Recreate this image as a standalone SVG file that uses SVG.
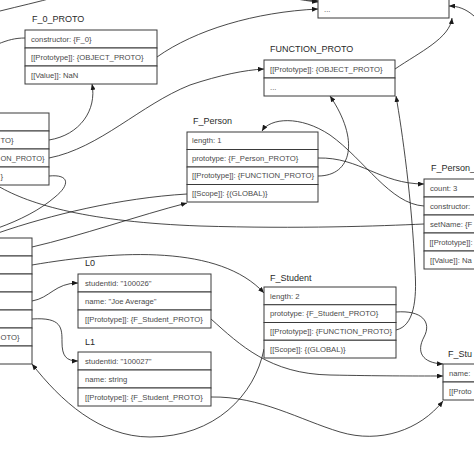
<svg xmlns="http://www.w3.org/2000/svg" width="474" height="474" viewBox="0 0 474 474">
<style>
.box{fill:#fff;stroke:#3a3a3a;stroke-width:1}
.t{font-family:"Liberation Sans",Arial,sans-serif;font-size:7.7px;fill:#4a4a4a}
.h{font-family:"Liberation Sans",Arial,sans-serif;font-size:9px;fill:#2a2a2a}
.c{fill:none;stroke:#1a1a1a;stroke-width:0.8}
.a{marker-end:url(#arr)}
</style>
<defs>
<marker id="arr" markerUnits="userSpaceOnUse" markerWidth="6" markerHeight="5" refX="6" refY="2.5" orient="auto">
<path d="M0,0 L6,2.5 L0,5 z" fill="#1a1a1a"/>
</marker>
</defs>
<rect width="474" height="474" fill="#fff"/>
<g id="connectors">
<path class="c" d="M0,11 C20,6 38,2 56,-3"/>
<path class="c a" d="M282,-4 C295,-1 308,1 318,2"/>
<path class="c a" d="M272,-6 C290,-2 306,0 318,1"/>
<path class="c a" d="M157,57 C195,30 255,12 318,9"/>
<path class="c a" d="M474,16 C466,9 458,6 449,6"/>
<path class="c" d="M25,38 C15,38 8,40 -2,44"/>
<path class="c a" d="M395,69 C420,52 450,38 452,18"/>
<path class="c a" d="M49,140 C80,135 97,110 92,84"/>
<path class="c a" d="M49,158 C100,148 140,105 190,85 C220,75 245,70 264,69"/>
<path class="c" d="M49,176 C70,174 70,185 55,197 C40,210 20,220 -2,228"/>
<path class="c" d="M-2,186 C30,205 90,222 200,226 C300,229 380,226 424,224"/>
<path class="c" d="M187,194 C120,198 50,215 -2,233"/>
<path class="c a" d="M32,247 C80,236 140,215 187,203"/>
<path class="c a" d="M318,158 C360,157 380,184 424,184"/>
<path class="c a" d="M424,206 C390,204 365,160 330,135 C300,115 270,118 262,131"/>
<path class="c a" d="M318,176 C352,176 360,140 330,96"/>
<path class="c a" d="M396,330 C414,326 417,300 415,270 C412,200 402,130 396,96"/>
<path class="c a" d="M32,265 C120,250 220,245 264,293"/>
<path class="c a" d="M32,301 C50,298 55,283 78,283"/>
<path class="c a" d="M32,319 C62,317 62,328 62,342 C62,356 66,361 78,361"/>
<path class="c a" d="M211,319 C240,345 270,374 330,375 C380,376 410,376 443,376"/>
<path class="c a" d="M211,397 C260,396 300,420 340,432 C380,444 420,430 443,401"/>
<path class="c a" d="M264,349 C255,395 215,437 150,437 C100,437 60,400 32,364"/>
<path class="c a" d="M396,312 C422,310 432,322 424,337 C416,352 422,363 443,364"/>
</g>
<g id="top_obj">
<rect class="box" x="318" y="-10" width="131" height="28"/>
<text class="t" x="324" y="12">...</text>
</g>
<g id="F_0_PROTO">
<text class="h" x="32" y="22">F_0_PROTO</text>
<rect class="box" x="25" y="30" width="132" height="18"/>
<rect class="box" x="25" y="48" width="132" height="18"/>
<rect class="box" x="25" y="66" width="132" height="18"/>
<text class="t" x="31" y="41.6">constructor: {F_0}</text>
<text class="t" x="31" y="59.6">[[Prototype]]: {OBJECT_PROTO}</text>
<text class="t" x="31" y="77.6">[[Value]]: NaN</text>
</g>
<g id="FUNCTION_PROTO">
<text class="h" x="270" y="52">FUNCTION_PROTO</text>
<rect class="box" x="264" y="60" width="131" height="18"/>
<rect class="box" x="264" y="78" width="131" height="18"/>
<text class="t" x="270" y="71.6">[[Prototype]]: {OBJECT_PROTO}</text>
<text class="t" x="270" y="89.6">...</text>
</g>
<g id="F_0">
<rect class="box" x="-90" y="113" width="139" height="18"/>
<rect class="box" x="-90" y="131" width="139" height="18"/>
<rect class="box" x="-90" y="149" width="139" height="18"/>
<rect class="box" x="-90" y="167" width="139" height="18"/>
<text class="t" x="0.5" y="142.6">TO}</text>
<text class="t" x="0.5" y="160.6" textLength="44" lengthAdjust="spacingAndGlyphs">ON_PROTO}</text>
<text class="t" x="0.5" y="178.6">}</text>
</g>
<g id="F_Person">
<text class="h" x="193" y="124">F_Person</text>
<rect class="box" x="187" y="132" width="131" height="17.5"/>
<rect class="box" x="187" y="149.5" width="131" height="17.5"/>
<rect class="box" x="187" y="167" width="131" height="17.5"/>
<rect class="box" x="187" y="184.5" width="131" height="17.5"/>
<text class="t" x="192" y="143.4">length: 1</text>
<text class="t" x="192" y="160.9">prototype: {F_Person_PROTO}</text>
<text class="t" x="192" y="178.4">[[Prototype]]: {FUNCTION_PROTO}</text>
<text class="t" x="192" y="195.9">[[Scope]]: {(GLOBAL)}</text>
</g>
<g id="F_Person_PROTO">
<text class="h" x="431" y="171" font-size="8.6">F_Person_</text>
<rect class="box" x="424" y="179" width="60" height="18"/>
<rect class="box" x="424" y="197" width="60" height="18"/>
<rect class="box" x="424" y="215" width="60" height="18"/>
<rect class="box" x="424" y="233" width="60" height="18"/>
<rect class="box" x="424" y="251" width="60" height="18"/>
<text class="t" x="430" y="190.6">count: 3</text>
<text class="t" x="430" y="208.6">constructor:</text>
<text class="t" x="430" y="226.6">setName: {F</text>
<text class="t" x="429.5" y="244.6" textLength="43" lengthAdjust="spacingAndGlyphs">[[Prototype]]:</text>
<text class="t" x="430" y="262.6">[[Value]]: Na</text>
</g>
<g id="GLOBAL">
<rect class="box" x="-100" y="238" width="132" height="18"/>
<rect class="box" x="-100" y="256" width="132" height="18"/>
<rect class="box" x="-100" y="274" width="132" height="18"/>
<rect class="box" x="-100" y="292" width="132" height="18"/>
<rect class="box" x="-100" y="310" width="132" height="18"/>
<rect class="box" x="-100" y="328" width="132" height="18"/>
<rect class="box" x="-100" y="346" width="132" height="18"/>
<text class="t" x="0.5" y="339.6">OTO}</text>
</g>
<g id="L0">
<text class="h" x="85" y="266">L0</text>
<rect class="box" x="78" y="274" width="133" height="18"/>
<rect class="box" x="78" y="292" width="133" height="18"/>
<rect class="box" x="78" y="310" width="133" height="18"/>
<text class="t" x="85" y="285.6">studentid: "100026"</text>
<text class="t" x="85" y="303.6">name: "Joe Average"</text>
<text class="t" x="85" y="321.6">[[Prototype]]: {F_Student_PROTO}</text>
</g>
<g id="L1">
<text class="h" x="85" y="345">L1</text>
<rect class="box" x="78" y="352" width="133" height="18"/>
<rect class="box" x="78" y="370" width="133" height="18"/>
<rect class="box" x="78" y="388" width="133" height="18"/>
<text class="t" x="85" y="363.6">studentid: "100027"</text>
<text class="t" x="85" y="381.6">name: string</text>
<text class="t" x="85" y="399.6">[[Prototype]]: {F_Student_PROTO}</text>
</g>
<g id="F_Student">
<text class="h" x="270" y="281">F_Student</text>
<rect class="box" x="264" y="287" width="132" height="17.75"/>
<rect class="box" x="264" y="304.75" width="132" height="17.75"/>
<rect class="box" x="264" y="322.5" width="132" height="17.75"/>
<rect class="box" x="264" y="340.25" width="132" height="17.75"/>
<text class="t" x="270" y="298.5">length: 2</text>
<text class="t" x="270" y="316.2">prototype: {F_Student_PROTO}</text>
<text class="t" x="270" y="334">[[Prototype]]: {FUNCTION_PROTO}</text>
<text class="t" x="270" y="351.7">[[Scope]]: {(GLOBAL)}</text>
</g>
<g id="F_Student_PROTO">
<text class="h" x="448" y="357">F_Stu</text>
<rect class="box" x="443" y="364" width="40" height="18"/>
<rect class="box" x="443" y="382" width="40" height="18"/>
<text class="t" x="449" y="375.6">name:</text>
<text class="t" x="449" y="393.6">[[Proto</text>
</g>
</svg>
